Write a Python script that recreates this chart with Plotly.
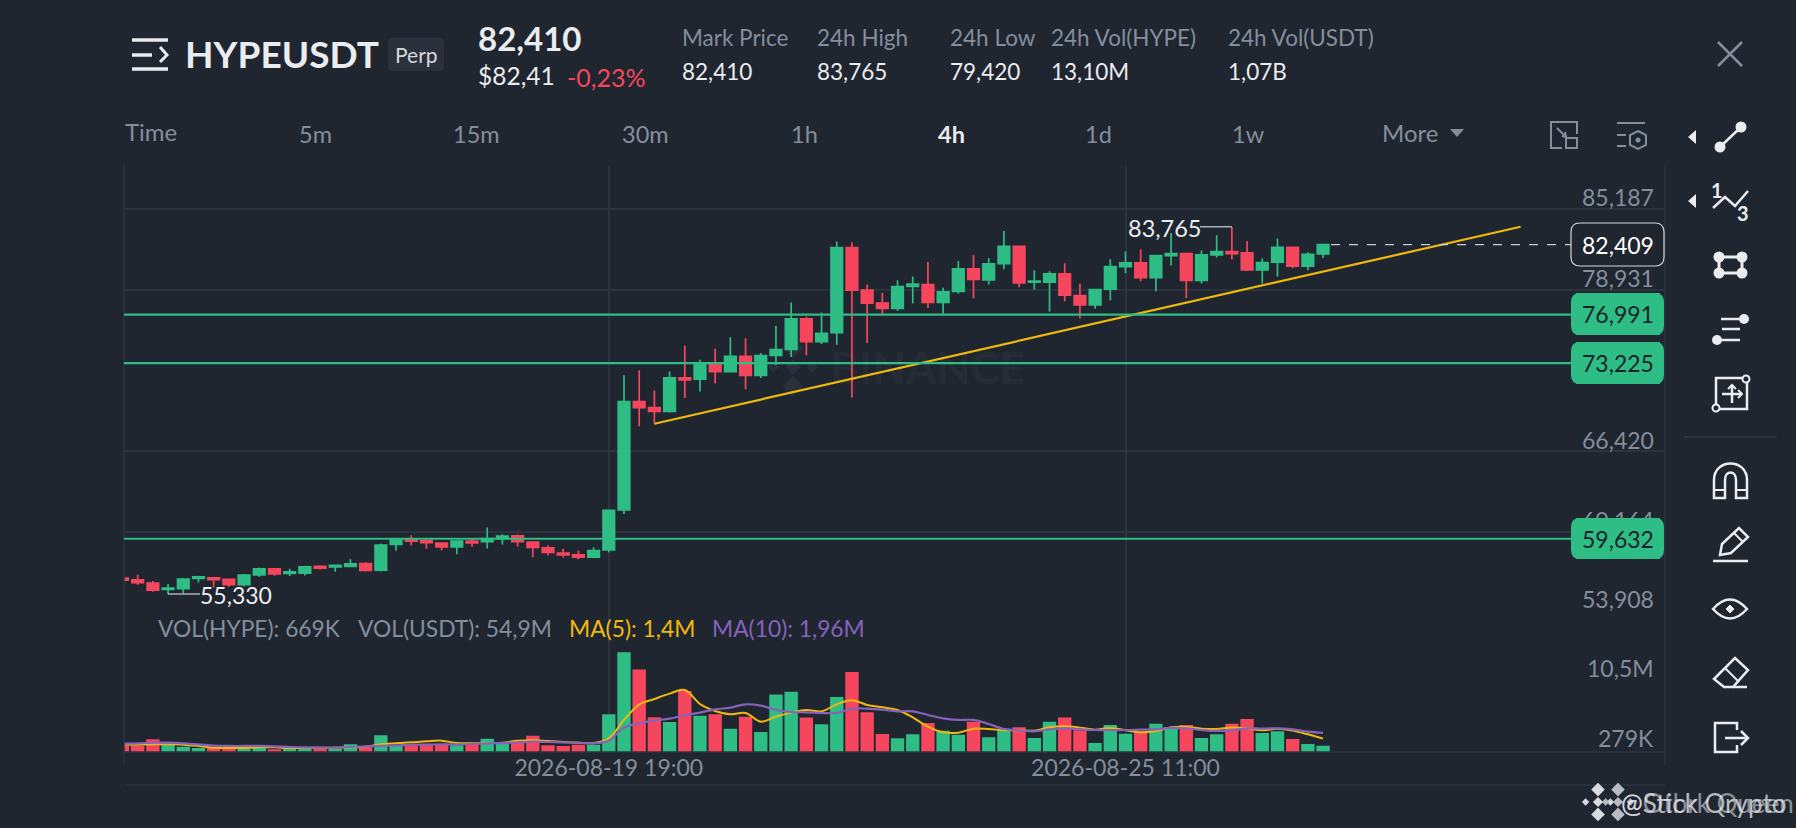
import plotly.graph_objects as go
import pandas as pd

# 4h candles, index 0 is 2026-08-19 19:00 on the chart
candle_times = pd.date_range("2026-08-14 11:00", periods=80, freq="4h")

opens = [56587, 56458, 56201, 55711, 55763, 56561, 56612, 56484, 56072, 56844,
         57308, 56947, 56973, 57488, 57462, 57488, 57719, 57205, 59187, 59547,
         59496, 59290, 59007, 59444, 59418, 59650, 59856, 59367, 58929, 58517,
         58389, 58209, 58775, 61864, 70256, 69793, 69484, 72084, 71981, 73191,
         72573, 73758, 72290, 73835, 74298, 76667, 74890, 75585, 82176, 78880,
         77876, 77465, 79164, 79318, 77928, 78777, 80528, 79678, 80940, 82278,
         79498, 79498, 80142, 78468, 77747, 78957, 80708, 80991, 79858, 81557,
         81712, 79627, 81609, 81866, 81763, 80450, 81043, 82201, 80734, 81686]
highs = [56638, 56844, 56355, 56123, 56587, 56767, 56664, 56561, 56896, 57385,
         57333, 57308, 57539, 57591, 57616, 58054, 57822, 59238, 59650, 59908,
         59547, 59341, 59521, 59624, 60500, 59985, 59959, 59444, 59135, 58852,
         58723, 58981, 61890, 72290, 72676, 71106, 72573, 74581, 73500, 74350,
         75225, 75148, 74015, 76126, 77928, 76821, 77156, 82639, 82587, 79318,
         78674, 79653, 79936, 81069, 79061, 81146, 81609, 81377, 83462, 82304,
         80425, 80347, 80965, 79369, 78932, 81274, 81866, 82021, 81609, 83308,
         81738, 81944, 83128, 83765, 82690, 81326, 82870, 82227, 81815, 82409]
lows = [56381, 56072, 55531, 55330, 55400, 56252, 55866, 55917, 55943, 56690,
        56767, 56741, 56793, 57256, 57076, 57436, 57102, 57102, 58698, 59110,
        58852, 58749, 58440, 59007, 58878, 59187, 59032, 58209, 58337, 58183,
        58054, 58131, 58595, 61555, 68351, 68557, 69407, 70540, 71029, 71647,
        72573, 71209, 72084, 73088, 73706, 73835, 74710, 74659, 70565, 74787,
        77001, 77259, 77851, 77490, 77001, 78597, 78263, 79318, 80502, 79112,
        78906, 77207, 78031, 76692, 77439, 78108, 80193, 79575, 78803, 80785,
        78262, 79395, 81403, 81248, 80373, 79395, 79936, 80579, 80425, 81377]
closes = [56432, 56226, 55660, 55814, 56510, 56690, 56458, 56072, 56818, 57308,
          56921, 57076, 57462, 57359, 57565, 57694, 57179, 59135, 59599, 59444,
          59341, 59007, 59444, 59316, 59650, 59830, 59418, 58955, 58569, 58389,
          58209, 58723, 61838, 70256, 69793, 69484, 72084, 71930, 73243, 72573,
          73758, 72290, 73809, 74272, 76667, 74890, 75534, 82176, 78880, 77876,
          77465, 79164, 79344, 77928, 78752, 80528, 79704, 80914, 82278, 79446,
          79575, 80142, 78494, 77747, 78932, 80708, 80991, 79858, 81557, 81712,
          79627, 81609, 81866, 81712, 80450, 81017, 82201, 80734, 81660, 82409]

# volume in millions
volumes = [0.88, 0.88, 1.85, 1.02, 0.78, 0.58, 0.58, 0.44, 0.44, 0.58,
           0.39, 0.58, 0.58, 0.54, 0.44, 1.12, 0.68, 2.44, 0.97, 0.97,
           1.17, 1.17, 0.97, 1.22, 1.95, 1.17, 1.66, 2.39, 0.97, 0.88,
           1.07, 1.07, 5.50, 14.56, 12.03, 5.06, 4.38, 8.91, 5.31, 5.50,
           3.41, 5.16, 2.92, 8.38, 8.81, 5.02, 4.04, 8.04, 11.69, 5.80,
           2.63, 2.00, 2.58, 4.24, 3.12, 2.53, 4.43, 2.14, 3.41, 3.60,
           2.05, 4.43, 5.02, 3.17, 1.31, 3.94, 2.68, 2.97, 4.14, 3.60,
           3.94, 2.05, 2.58, 4.14, 4.82, 2.78, 3.02, 1.90, 1.17, 0.93]
ma5 = [1.07, 1.07, 1.12, 1.12, 1.07, 0.88, 0.63, 0.58, 0.58, 0.68,
       0.68, 0.58, 0.58, 0.63, 0.63, 0.68, 0.78, 1.12, 1.27, 1.41,
       1.56, 1.66, 1.31, 1.27, 1.31, 1.36, 1.66, 1.70, 1.61, 1.46,
       1.36, 1.31, 2.00, 4.68, 6.92, 7.74, 8.52, 9.06, 7.01, 5.99,
       5.50, 5.70, 4.43, 5.16, 5.75, 6.14, 5.94, 6.96, 7.55, 6.87,
       6.53, 6.14, 5.06, 3.70, 2.87, 2.82, 3.41, 3.36, 3.17, 3.17,
       3.12, 3.60, 3.75, 3.56, 3.26, 3.51, 3.17, 2.87, 3.07, 3.60,
       3.65, 3.41, 3.36, 3.56, 3.46, 3.17, 3.41, 3.12, 2.58, 1.95]
ma10 = [1.22, 1.27, 1.36, 1.36, 1.27, 1.12, 0.93, 0.88, 0.88, 0.88,
        0.83, 0.73, 0.68, 0.63, 0.63, 0.73, 0.83, 0.88, 0.97, 1.07,
        1.07, 1.12, 1.12, 1.17, 1.27, 1.31, 1.41, 1.51, 1.46, 1.41,
        1.36, 1.27, 1.66, 3.56, 4.19, 4.58, 4.87, 5.36, 5.75, 6.23,
        6.48, 6.96, 6.77, 6.14, 5.84, 5.80, 5.70, 5.70, 6.33, 6.33,
        6.18, 5.94, 5.94, 5.41, 4.92, 4.68, 4.68, 4.09, 3.36, 3.17,
        3.02, 3.31, 3.46, 3.31, 3.21, 3.21, 3.21, 3.26, 3.31, 3.51,
        3.46, 3.21, 3.07, 3.17, 3.46, 3.41, 3.46, 3.31, 2.97, 2.78]

price_ticks = [85187, 78931, 66420, 60164, 53908]
volume_ticks = [10.5, 0.279]
volume_tick_text = ["10,5M", "279K"]
time_ticks = ["2026-08-19 19:00", "2026-08-25 11:00"]
level_prices = [76991, 73225, 59632]
trend_times = ["2026-08-20 07:00", "2026-08-29 19:00"]
trend_prices = [68540, 83793]
last_price = 82409

tabs = ["5m", "15m", "30m", "1h", "4h", "1d", "1w"]
tab_centers = [315, 476, 645, 804, 951, 1098, 1248]
stat_names = ["Mark Price", "24h High", "24h Low", "24h Vol(HYPE)", "24h Vol(USDT)"]
stat_values = ["82,410", "83,765", "79,420", "13,10M", "1,07B"]
stat_lefts = [681, 816, 949, 1050, 1227]

BG = "#1f2630"
GRID = "#2c333e"
GREEN = "#2ebd85"
RED = "#f6465d"
GREY = "#848e9c"
WHITE = "#eaecef"
YELLOW = "#f0b90b"
PURPLE = "#8662bd"
FONT = "Lato"


def px(x):
    return x / 1796


def py(y):
    return 1 - y / 828


def pt(x, y):
    return f"{px(x):.5f},{py(y):.5f}"


def poly(points, close=False):
    path = "M" + " L".join(pt(x, y) for x, y in points)
    return path + (" Z" if close else "")


fig = go.Figure()
fig.add_trace(go.Candlestick(
    x=candle_times, open=opens, high=highs, low=lows, close=closes,
    increasing=dict(line=dict(color=GREEN, width=1.7), fillcolor=GREEN),
    decreasing=dict(line=dict(color=RED, width=1.7), fillcolor=RED),
    xaxis="x", yaxis="y", hoverinfo="skip",
))
fig.add_trace(go.Scatter(x=trend_times, y=trend_prices, mode="lines",
                         line=dict(color=YELLOW, width=2.2), xaxis="x", yaxis="y"))
bar_colors = [GREEN if c >= o else RED for o, c in zip(opens, closes)]
fig.add_trace(go.Bar(x=candle_times, y=volumes, marker=dict(color=bar_colors, line_width=0),
                     xaxis="x2", yaxis="y2"))
fig.add_trace(go.Scatter(x=candle_times, y=ma5, mode="lines",
                         line=dict(color=YELLOW, width=2, shape="spline"), xaxis="x2", yaxis="y2"))
fig.add_trace(go.Scatter(x=candle_times, y=ma10, mode="lines",
                         line=dict(color=PURPLE, width=2.2, shape="spline"), xaxis="x2", yaxis="y2"))

shapes = []
notes = []


def line(points, color=WHITE, width=2.5, close=False, fill=None, layer="above"):
    shapes.append(dict(type="path", path=poly(points, close), xref="paper", yref="paper", layer=layer,
                       line=dict(color=color, width=width), fillcolor=fill))


def raw_path(path, color=WHITE, width=2.5, fill=None):
    shapes.append(dict(type="path", path=path, xref="paper", yref="paper",
                       line=dict(color=color, width=width), fillcolor=fill))


def dot(x, y, r, fill=WHITE, color=None, width=0):
    shapes.append(dict(type="circle", xref="paper", yref="paper",
                       x0=px(x - r), x1=px(x + r), y0=py(y + r), y1=py(y - r), fillcolor=fill,
                       line=dict(color=color or fill, width=width)))


def box(x0, y0, x1, y1, r, fill, color=None, width=0):
    # rounded rectangle
    path = (f"M{pt(x0 + r, y0)} L{pt(x1 - r, y0)} Q{pt(x1, y0)} {pt(x1, y0 + r)} L{pt(x1, y1 - r)} "
            f"Q{pt(x1, y1)} {pt(x1 - r, y1)} L{pt(x0 + r, y1)} Q{pt(x0, y1)} {pt(x0, y1 - r)} "
            f"L{pt(x0, y0 + r)} Q{pt(x0, y0)} {pt(x0 + r, y0)} Z")
    shapes.append(dict(type="path", path=path, xref="paper", yref="paper", fillcolor=fill,
                       line=dict(color=color or fill, width=width)))


def label(text, x, y, size, color=WHITE, anchor="left", **kw):
    notes.append(dict(text=text, x=px(x), y=py(y), xref="paper", yref="paper", xanchor=anchor, yanchor="middle",
                      showarrow=False, font=dict(family=FONT, size=size, color=color), borderpad=0, **kw))


def logo(cx, cy, r, color, layer="above"):
    s = r * 0.34
    for dx, dy, k in [(0, -0.62, 1), (0, 0.62, 1), (-0.62, 0, 0.55), (0.62, 0, 0.55), (0, 0, 0.75)]:
        x, y = cx + dx * r, cy + dy * r
        q = s * k
        line([(x - q, y), (x, y - q), (x + q, y), (x, y + q)], color=color, width=0, close=True,
             fill=color, layer=layer)


# pane frame
line([(124, 165), (124, 765)], GRID, 1.5)
line([(1665, 165), (1665, 765)], GRID, 1.5)
line([(124, 752), (1665, 752)], GRID, 1.5)
line([(126, 785), (1665, 785)], GRID, 1.5)

# exchange watermark behind the candles
logo(793, 367, 31, "#2a313c", layer="below")
label("<b>BINANCE</b>", 829, 367, 44, "rgba(255,255,255,0.045)")

# support levels and last price
for level in level_prices:
    shapes.append(dict(type="line", xref="paper", yref="y", x0=px(124), x1=px(1572), y0=level, y1=level,
                       line=dict(color=GREEN, width=2.2), layer="above"))
shapes.append(dict(type="line", xref="paper", yref="y", x0=px(1331), x1=px(1572), y0=last_price, y1=last_price,
                   line=dict(color="#c8ccd2", width=1.2, dash="dash"), layer="above"))

# axis labels sit just above their grid lines
for tick in price_ticks:
    notes.append(dict(text=f"{tick:,}", x=px(1656), y=tick, xref="paper", yref="y", xanchor="right", yanchor="middle",
                      yshift=14 if tick == price_ticks[-1] else 11.5, showarrow=False,
                      font=dict(family=FONT, size=23, color=GREY)))
for tick, text in zip(volume_ticks, volume_tick_text):
    notes.append(dict(text=text, x=px(1656), y=tick, xref="paper", yref="y2", xanchor="right",
                      yanchor="middle", yshift=12, showarrow=False, font=dict(family=FONT, size=23, color=GREY)))

# level tags
level_boxes = [(293, 335), (342, 384), (518, 559)]
for level, (top, bottom) in zip(level_prices, level_boxes):
    box(1571, top, 1664, bottom, 9, GREEN)
    notes.append(dict(text=f"{level:,}", x=px(1617.5), y=py((top + bottom) / 2), xref="paper", yref="paper",
                      xanchor="center", yanchor="middle", showarrow=False, bgcolor=GREEN, width=84, height=bottom - top,
                      borderpad=0, borderwidth=0, font=dict(family=FONT, size=23, color="#1b222b")))
box(1571, 223, 1664, 266, 9, BG, color="#d5d8dc", width=1.2)
label(f"{last_price:,}", 1617.5, 245, 23, "#ffffff", anchor="center")

# high / low callouts
label("83,765", 1127, 228, 23.5, WHITE)
line([(1200, 226.7), (1232, 226.7)], "#aab0b8", 1.5)
label("55,330", 199, 595, 23, WHITE)
line([(168, 594), (200, 594)], "#aab0b8", 1.5)

# volume legend
label("VOL(HYPE): 669K", 157, 628, 22.8, GREY)
label("VOL(USDT): 54,9M", 357, 628, 22.8, GREY)
label("MA(5): 1,4M", 568, 628, 22.8, YELLOW)
label("MA(10): 1,96M", 711, 628, 22.8, PURPLE)

# header
line([(132, 40), (168, 40)], WHITE, 3.5)
line([(132, 55), (152, 55)], WHITE, 3.5)
line([(132, 69), (168, 69)], WHITE, 3.5)
line([(160, 47), (167, 55), (160, 62)], WHITE, 3)
label("<b>HYPEUSDT</b>", 184, 54, 37, WHITE)
box(388, 38, 444, 71, 5, "#2a313c")
label("Perp", 416, 55, 21, "#d5d8dc", anchor="center")
label("<b>82,410</b>", 477, 38, 33, WHITE)
label("$82,41", 477, 76, 24.5, WHITE)
label("-0,23%", 566, 77, 25, RED)
for name, value, left in zip(stat_names, stat_values, stat_lefts):
    label(name, left, 38, 22.5, GREY)
    label(value, left, 72, 22.5, WHITE)
line([(1718, 42), (1742, 66)], GREY, 2.5)
line([(1742, 42), (1718, 66)], GREY, 2.5)

# interval tabs
label("Time", 124, 131, 24, GREY)
for tab, center in zip(tabs, tab_centers):
    if tab == "4h":
        label("<b>4h</b>", center, 134, 23.5, WHITE, anchor="center")
    else:
        label(tab, center, 134, 23.5, GREY, anchor="center")
label("More", 1410, 132, 24, GREY, anchor="center")
line([(1450, 129), (1464, 129), (1457, 137)], GREY, 0, close=True, fill=GREY)

# small chart-option icons
line([(1577, 134), (1577, 122), (1551, 122), (1551, 148), (1562, 148)], GREY, 2)
line([(1566, 138), (1577, 138), (1577, 148), (1566, 148)], GREY, 2, close=True)
line([(1557, 128), (1566, 137)], GREY, 2)
line([(1562, 136), (1566, 137), (1565, 132)], GREY, 2)
line([(1617, 123), (1645, 123)], GREY, 2)
line([(1617, 135), (1626, 135)], GREY, 2)
line([(1617, 146), (1626, 146)], GREY, 2)
line([(1638, 131), (1646, 135), (1646, 145), (1638, 149), (1630, 145), (1630, 135)], GREY, 2, close=True)
dot(1638, 140, 2.5, GREY)

# drawing toolbar
line([(1688, 137), (1696, 130), (1696, 144)], WHITE, 0, close=True, fill=WHITE)
line([(1688, 201), (1696, 194), (1696, 208)], WHITE, 0, close=True, fill=WHITE)
line([(1720, 147), (1741, 127)], WHITE, 2.5)
dot(1741, 127, 5.5)
dot(1720, 147, 5.5)
label("<b>1</b>", 1717, 190, 20, WHITE, anchor="center")
label("<b>3</b>", 1743, 213, 20, WHITE, anchor="center")
line([(1713, 208), (1725, 197), (1735, 206), (1748, 191)], WHITE, 2.5)
line([(1719, 257), (1742, 257), (1742, 273), (1719, 273)], WHITE, 3, close=True)
for x, y in [(1719, 257), (1742, 257), (1719, 273), (1742, 273)]:
    dot(x, y, 5.5)
line([(1721, 319), (1744, 319)], WHITE, 2.5)
line([(1722, 329), (1740, 329)], WHITE, 2.5)
line([(1717, 340), (1740, 340)], WHITE, 2.5)
dot(1744, 319, 5)
dot(1717, 340, 5)
line([(1716, 378), (1747, 378), (1747, 409), (1716, 409)], WHITE, 2.5, close=True)
line([(1732, 385), (1732, 403)], WHITE, 2.5)
line([(1722, 394), (1742, 394)], WHITE, 2.5)
line([(1728, 389), (1732, 385), (1736, 389)], WHITE, 2)
line([(1738, 390), (1742, 394), (1738, 398)], WHITE, 2)
dot(1746, 379, 3.5, BG, WHITE, 2)
dot(1716, 408, 3.5, BG, WHITE, 2)
line([(1684, 437), (1777, 437)], GRID, 2)
raw_path(f"M{pt(1714, 498)} L{pt(1714, 480)} C{pt(1714, 458)} {pt(1747, 458)} {pt(1747, 480)} "
         f"L{pt(1747, 498)} L{pt(1736, 498)} L{pt(1736, 480)} C{pt(1736, 470)} {pt(1725, 470)} {pt(1725, 480)} "
         f"L{pt(1725, 498)} Z")
line([(1714, 490), (1725, 490)], WHITE, 2)
line([(1736, 490), (1747, 490)], WHITE, 2)
line([(1713, 561), (1748, 561)], WHITE, 2.5)
line([(1720, 555), (1722, 544), (1739, 528), (1748, 537), (1731, 553)], WHITE, 2.5, close=True)
line([(1734, 533), (1743, 542)], WHITE, 2)
raw_path(f"M{pt(1713, 609)} Q{pt(1730, 590)} {pt(1747, 609)} Q{pt(1730, 628)} {pt(1713, 609)} Z")
line([(1726, 609), (1730, 605), (1734, 609), (1730, 613)], WHITE, 1, close=True, fill=WHITE)
line([(1714, 679), (1735, 658), (1748, 670), (1733, 687), (1724, 687)], WHITE, 2.5, close=True)
line([(1725, 668), (1739, 682)], WHITE, 2)
line([(1733, 687), (1747, 687)], WHITE, 2.5)
line([(1737, 730), (1737, 723), (1715, 723), (1715, 752), (1737, 752), (1737, 745)], WHITE, 2.5)
line([(1725, 738), (1747, 738)], WHITE, 2.5)
line([(1741, 731), (1748, 738), (1741, 745)], WHITE, 2.5)

# repost watermark, two captions stacked on each other
logo(1598, 802, 20, "#d8dbdf")
logo(1618, 802, 20, "#b8bcc2")
label("@Stick Qrypto", 1620, 803, 26, "rgba(234,236,239,0.75)")
label("@Otbrk Queen", 1620, 803, 26, "rgba(234,236,239,0.55)")

fig.update_layout(
    width=1796, height=828, margin=dict(l=0, r=0, t=0, b=0),
    paper_bgcolor=BG, plot_bgcolor=BG, showlegend=False, bargap=0.12, boxgap=0.24, boxgroupgap=0,
    hovermode=False, dragmode=False, font=dict(family=FONT),
    shapes=shapes, annotations=notes,
    xaxis=dict(domain=[px(124), px(1665)], range=["2026-08-14 11:24", "2026-08-31 09:00"], type="date",
               rangeslider_visible=False, showticklabels=False, tickvals=time_ticks, showgrid=True,
               gridcolor=GRID, gridwidth=1.5, zeroline=False, showline=False, ticks=""),
    yaxis=dict(domain=[py(612.7), py(165.7)], range=[53908, 88516], tickvals=price_ticks, showticklabels=False,
               gridcolor=GRID, gridwidth=1.5, zeroline=False, ticks=""),
    xaxis2=dict(domain=[px(124), px(1665)], matches="x", anchor="y2", type="date", tickvals=time_ticks,
                tickformat="%Y-%m-%d %H:%M", showgrid=True, gridcolor=GRID, gridwidth=1.5, zeroline=False,
                ticks="", tickfont=dict(family=FONT, size=23, color=GREY)),
    yaxis2=dict(domain=[py(752), py(612.7)], range=[0, 20.34], showticklabels=False, showgrid=False,
                zeroline=False, ticks="", anchor="x2"),
)

fig.write_html("out.html", config={"displayModeBar": False},
               post_script=f"document.body.style.margin='0';document.body.style.background='{BG}';")
